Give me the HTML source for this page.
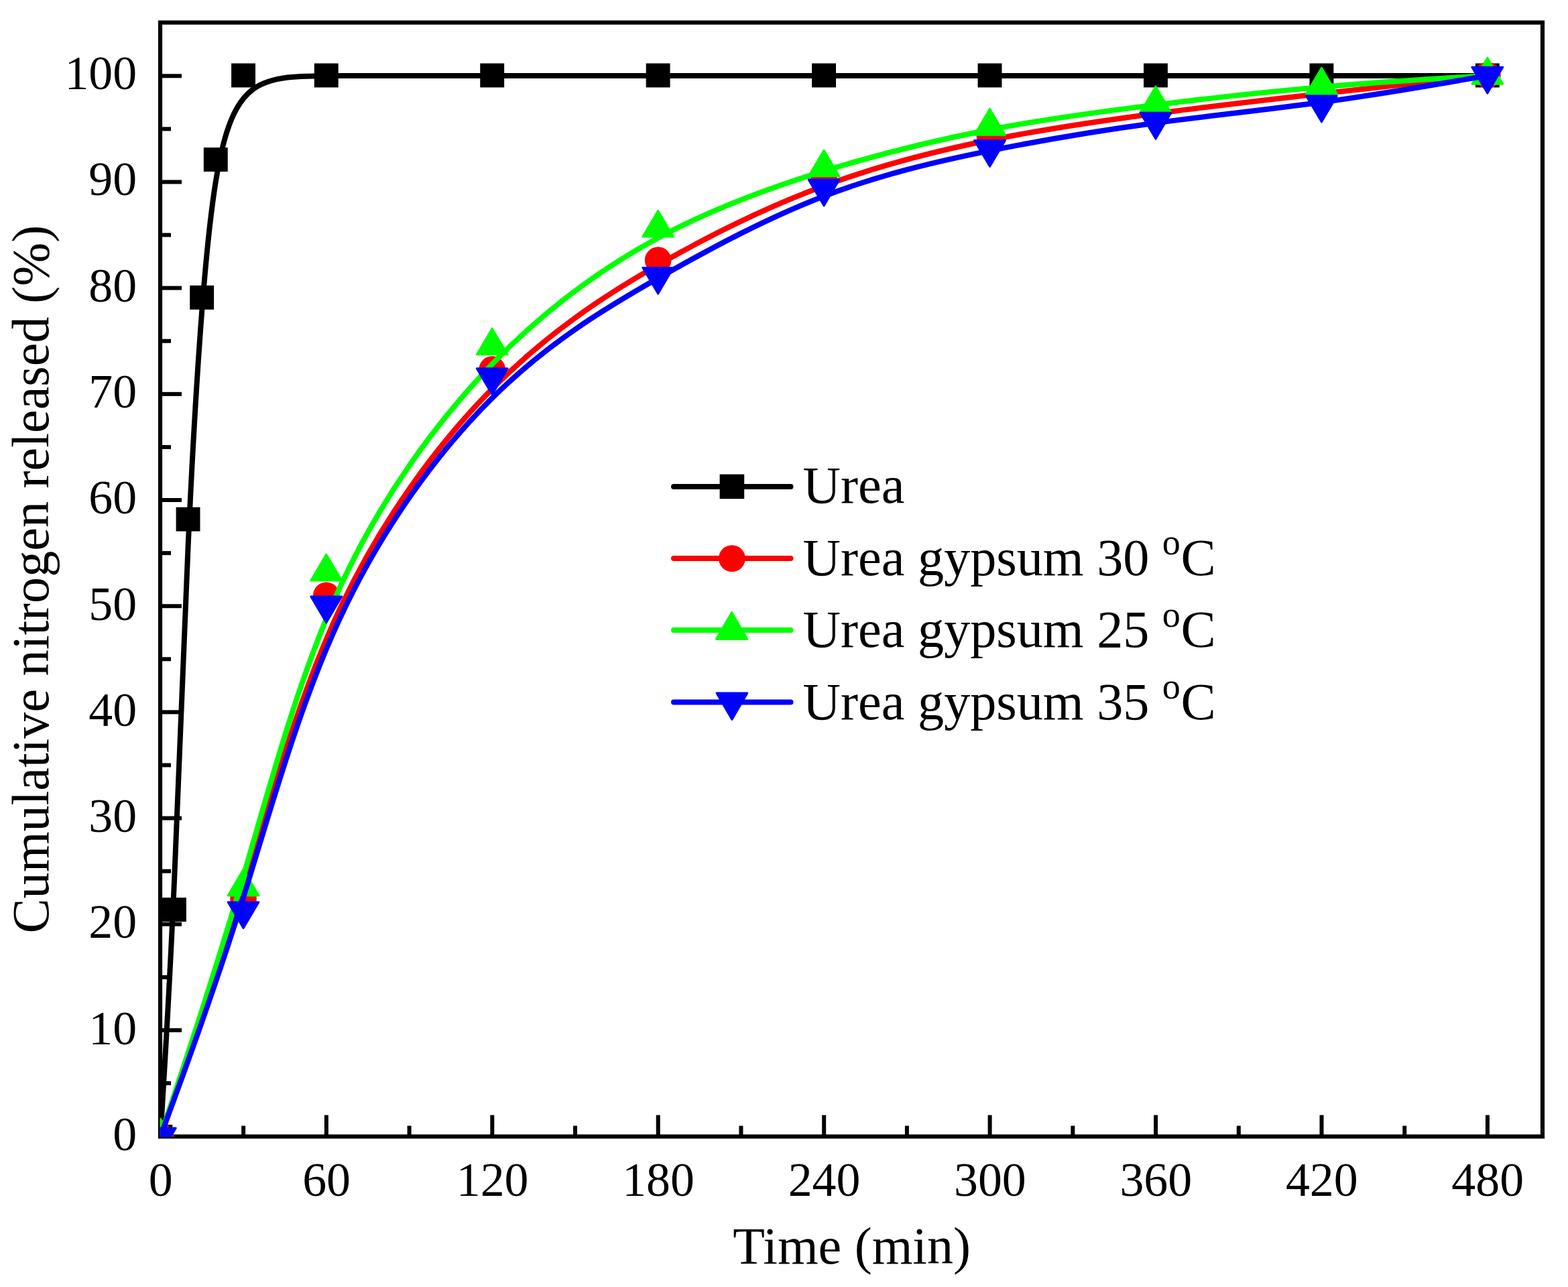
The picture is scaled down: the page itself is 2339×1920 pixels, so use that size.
<!DOCTYPE html>
<html lang="en"><head><meta charset="utf-8"><title>Cumulative nitrogen released</title>
<style>html,body{margin:0;padding:0;background:#fff}body{width:2339px;height:1920px;overflow:hidden}svg{display:block}text{font-family:"Liberation Serif","Times New Roman",serif;fill:#000}</style>
</head><body>
<svg width="2339" height="1920" viewBox="0 0 2339 1920">
<rect width="2339" height="1920" fill="#fff"/>
<defs><clipPath id="plot"><rect x="238.6" y="33.6" width="2062.4" height="1662.3000000000002"/></clipPath></defs>
<rect x="239.0" y="33.6" width="2062.0" height="1661.9" fill="none" stroke="#000" stroke-width="6.2"/>
<g stroke="#000" stroke-width="6" fill="none">
<line x1="239.0" y1="1616.01" x2="255.0" y2="1616.01"/>
<line x1="239.0" y1="1536.92" x2="271.0" y2="1536.92"/>
<line x1="239.0" y1="1457.83" x2="255.0" y2="1457.83"/>
<line x1="239.0" y1="1378.74" x2="271.0" y2="1378.74"/>
<line x1="239.0" y1="1299.65" x2="255.0" y2="1299.65"/>
<line x1="239.0" y1="1220.56" x2="271.0" y2="1220.56"/>
<line x1="239.0" y1="1141.47" x2="255.0" y2="1141.47"/>
<line x1="239.0" y1="1062.38" x2="271.0" y2="1062.38"/>
<line x1="239.0" y1="983.29" x2="255.0" y2="983.29"/>
<line x1="239.0" y1="904.20" x2="271.0" y2="904.20"/>
<line x1="239.0" y1="825.11" x2="255.0" y2="825.11"/>
<line x1="239.0" y1="746.02" x2="271.0" y2="746.02"/>
<line x1="239.0" y1="666.93" x2="255.0" y2="666.93"/>
<line x1="239.0" y1="587.84" x2="271.0" y2="587.84"/>
<line x1="239.0" y1="508.75" x2="255.0" y2="508.75"/>
<line x1="239.0" y1="429.66" x2="271.0" y2="429.66"/>
<line x1="239.0" y1="350.57" x2="255.0" y2="350.57"/>
<line x1="239.0" y1="271.48" x2="271.0" y2="271.48"/>
<line x1="239.0" y1="192.39" x2="255.0" y2="192.39"/>
<line x1="239.0" y1="113.30" x2="271.0" y2="113.30"/>
<line x1="363.12" y1="1695.5" x2="363.12" y2="1679.5"/>
<line x1="486.84" y1="1695.5" x2="486.84" y2="1663.5"/>
<line x1="610.56" y1="1695.5" x2="610.56" y2="1679.5"/>
<line x1="734.28" y1="1695.5" x2="734.28" y2="1663.5"/>
<line x1="858.00" y1="1695.5" x2="858.00" y2="1679.5"/>
<line x1="981.72" y1="1695.5" x2="981.72" y2="1663.5"/>
<line x1="1105.44" y1="1695.5" x2="1105.44" y2="1679.5"/>
<line x1="1229.16" y1="1695.5" x2="1229.16" y2="1663.5"/>
<line x1="1352.88" y1="1695.5" x2="1352.88" y2="1679.5"/>
<line x1="1476.60" y1="1695.5" x2="1476.60" y2="1663.5"/>
<line x1="1600.32" y1="1695.5" x2="1600.32" y2="1679.5"/>
<line x1="1724.04" y1="1695.5" x2="1724.04" y2="1663.5"/>
<line x1="1847.76" y1="1695.5" x2="1847.76" y2="1679.5"/>
<line x1="1971.48" y1="1695.5" x2="1971.48" y2="1663.5"/>
<line x1="2095.20" y1="1695.5" x2="2095.20" y2="1679.5"/>
<line x1="2218.92" y1="1695.5" x2="2218.92" y2="1663.5"/>
</g>
<g font-size="71.8">
<text transform="translate(204.1,1716) scale(1.0,1)" text-anchor="end">0</text>
<text transform="translate(204.1,1558) scale(1.0,1)" text-anchor="end">10</text>
<text transform="translate(204.1,1399) scale(1.0,1)" text-anchor="end">20</text>
<text transform="translate(204.1,1241) scale(1.0,1)" text-anchor="end">30</text>
<text transform="translate(204.1,1083) scale(1.0,1)" text-anchor="end">40</text>
<text transform="translate(204.1,925) scale(1.0,1)" text-anchor="end">50</text>
<text transform="translate(204.1,766) scale(1.0,1)" text-anchor="end">60</text>
<text transform="translate(204.1,608) scale(1.0,1)" text-anchor="end">70</text>
<text transform="translate(204.1,450) scale(1.0,1)" text-anchor="end">80</text>
<text transform="translate(204.1,291) scale(1.0,1)" text-anchor="end">90</text>
<text transform="translate(204.1,133) scale(1.0,1)" text-anchor="end">100</text>
<text transform="translate(239.7,1784) scale(1.0,1)" text-anchor="middle">0</text>
<text transform="translate(487.1,1784) scale(1.0,1)" text-anchor="middle">60</text>
<text transform="translate(734.6,1784) scale(1.0,1)" text-anchor="middle">120</text>
<text transform="translate(982.0,1784) scale(1.0,1)" text-anchor="middle">180</text>
<text transform="translate(1229.5,1784) scale(1.0,1)" text-anchor="middle">240</text>
<text transform="translate(1476.9,1784) scale(1.0,1)" text-anchor="middle">300</text>
<text transform="translate(1724.3,1784) scale(1.0,1)" text-anchor="middle">360</text>
<text transform="translate(1971.8,1784) scale(1.0,1)" text-anchor="middle">420</text>
<text transform="translate(2219.2,1784) scale(1.0,1)" text-anchor="middle">480</text>
</g>
<text x="1270.7" y="1885" font-size="78" text-anchor="middle">Time (min)</text>
<text transform="translate(71.8,864.2) rotate(-90) scale(1.002,1)" font-size="78" text-anchor="middle">Cumulative nitrogen released (%)</text>
<g clip-path="url(#plot)">
<path d="M239.30,1695.50 C239.30,1695.50 239.30,1695.50 242.74,1639.05 C246.17,1582.60 253.05,1469.69 259.92,1316.16 C266.79,1162.64 273.67,968.48 280.54,816.28 C287.41,664.07 294.29,553.80 301.16,464.38 C308.03,374.95 314.91,306.36 325.22,251.27 C335.53,196.18 349.27,154.58 376.77,133.78 C404.26,112.98 445.50,112.98 507.36,112.98 C569.22,112.98 651.70,112.98 734.18,112.98 C816.66,112.98 899.14,112.98 981.62,112.98 C1064.10,112.98 1146.58,112.98 1229.06,112.98 C1311.54,112.98 1394.02,112.98 1476.50,112.98 C1558.98,112.98 1641.46,112.98 1723.94,112.98 C1806.42,112.98 1888.90,112.98 1971.38,112.98 C2053.86,112.98 2136.34,112.98 2177.58,112.98 C2218.82,112.98 2218.82,112.98 2218.82,112.98" fill="none" stroke="#000" stroke-width="8" stroke-linejoin="round"/>
<g fill="#000">
<rect x="221.35" y="1677.85" width="35.9" height="35.9"/>
<rect x="241.97" y="1339.14" width="35.9" height="35.9"/>
<rect x="262.59" y="756.68" width="35.9" height="35.9"/>
<rect x="283.21" y="425.89" width="35.9" height="35.9"/>
<rect x="303.83" y="220.13" width="35.9" height="35.9"/>
<rect x="345.07" y="94.53" width="35.9" height="35.9"/>
<rect x="468.79" y="94.53" width="35.9" height="35.9"/>
<rect x="716.23" y="94.53" width="35.9" height="35.9"/>
<rect x="963.67" y="94.53" width="35.9" height="35.9"/>
<rect x="1211.11" y="94.53" width="35.9" height="35.9"/>
<rect x="1458.55" y="94.53" width="35.9" height="35.9"/>
<rect x="1705.99" y="94.53" width="35.9" height="35.9"/>
<rect x="1953.43" y="94.53" width="35.9" height="35.9"/>
<rect x="2200.87" y="94.53" width="35.9" height="35.9"/>
</g>
<path d="M239.30,1695.50 C239.30,1695.50 239.30,1695.50 259.92,1636.41 C280.54,1577.32 321.78,1459.14 363.02,1324.61 C404.26,1190.07 445.50,1039.18 507.36,907.55 C569.22,775.92 651.70,663.54 734.18,580.18 C816.66,496.82 899.14,442.48 981.62,395.26 C1064.10,348.04 1146.58,307.95 1229.06,277.35 C1311.54,246.75 1394.02,225.64 1476.50,209.02 C1558.98,192.40 1641.46,180.27 1723.94,169.45 C1806.42,158.64 1888.90,149.14 1971.38,139.82 C2053.86,130.49 2136.34,121.34 2177.58,116.76 C2218.82,112.18 2218.82,112.18 2218.82,112.18" fill="none" stroke="#f00" stroke-width="8" stroke-linejoin="round"/>
<g fill="#f00">
<circle cx="239.30" cy="1695.50" r="19.8"/>
<circle cx="363.02" cy="1340.96" r="19.8"/>
<circle cx="486.74" cy="888.29" r="19.8"/>
<circle cx="734.18" cy="551.16" r="19.8"/>
<circle cx="981.62" cy="388.14" r="19.8"/>
<circle cx="1229.06" cy="267.85" r="19.8"/>
<circle cx="1476.50" cy="204.54" r="19.8"/>
<circle cx="1723.94" cy="168.13" r="19.8"/>
<circle cx="1971.38" cy="139.65" r="19.8"/>
<circle cx="2218.82" cy="112.18" r="19.8"/>
</g>
<path d="M239.30,1695.50 C239.30,1695.50 239.30,1695.50 259.92,1633.51 C280.54,1571.52 321.78,1447.53 363.02,1307.20 C404.26,1166.86 445.50,1010.16 507.36,875.63 C569.22,741.09 651.70,628.72 734.18,543.25 C816.66,457.78 899.14,399.22 981.62,354.90 C1064.10,310.58 1146.58,280.51 1229.06,255.19 C1311.54,229.86 1394.02,209.29 1476.50,193.46 C1558.98,177.63 1641.46,166.55 1723.94,156.40 C1806.42,146.24 1888.90,137.01 1971.38,129.88 C2053.86,122.76 2136.34,117.75 2177.58,115.24 C2218.82,112.74 2218.82,112.74 2218.82,112.74" fill="none" stroke="#0f0" stroke-width="8" stroke-linejoin="round"/>
<g fill="#0f0">
<polygon points="239.30,1669.03 262.30,1708.03 216.30,1708.03" stroke="#0f0" stroke-width="2.8" stroke-linejoin="round"/>
<polygon points="363.02,1297.08 386.02,1336.08 340.02,1336.08" stroke="#0f0" stroke-width="2.8" stroke-linejoin="round"/>
<polygon points="486.74,827.00 509.74,866.00 463.74,866.00" stroke="#0f0" stroke-width="2.8" stroke-linejoin="round"/>
<polygon points="734.18,489.88 757.18,528.88 711.18,528.88" stroke="#0f0" stroke-width="2.8" stroke-linejoin="round"/>
<polygon points="981.62,314.19 1004.62,353.19 958.62,353.19" stroke="#0f0" stroke-width="2.8" stroke-linejoin="round"/>
<polygon points="1229.06,223.97 1252.06,262.97 1206.06,262.97" stroke="#0f0" stroke-width="2.8" stroke-linejoin="round"/>
<polygon points="1476.50,162.24 1499.50,201.24 1453.50,201.24" stroke="#0f0" stroke-width="2.8" stroke-linejoin="round"/>
<polygon points="1723.94,129.01 1746.94,168.01 1700.94,168.01" stroke="#0f0" stroke-width="2.8" stroke-linejoin="round"/>
<polygon points="1971.38,101.31 1994.38,140.31 1948.38,140.31" stroke="#0f0" stroke-width="2.8" stroke-linejoin="round"/>
<polygon points="2218.82,86.27 2241.82,125.27 2195.82,125.27" stroke="#0f0" stroke-width="2.8" stroke-linejoin="round"/>
</g>
<path d="M239.30,1695.50 C239.30,1695.50 239.30,1695.50 259.92,1639.31 C280.54,1583.12 321.78,1470.75 363.02,1338.59 C404.26,1206.43 445.50,1054.48 507.36,921.79 C569.22,789.11 651.70,675.67 734.18,593.90 C816.66,512.12 899.14,462.00 981.62,415.05 C1064.10,368.09 1146.58,324.30 1229.06,292.65 C1311.54,260.99 1394.02,241.47 1476.50,224.85 C1558.98,208.23 1641.46,194.51 1723.94,183.43 C1806.42,172.36 1888.90,163.91 1971.38,152.57 C2053.86,141.23 2136.34,126.98 2177.58,119.86 C2218.82,112.74 2218.82,112.74 2218.82,112.74" fill="none" stroke="#00f" stroke-width="8" stroke-linejoin="round"/>
<g fill="#00f">
<polygon points="239.30,1721.97 262.30,1682.97 216.30,1682.97" stroke="#00f" stroke-width="2.8" stroke-linejoin="round"/>
<polygon points="363.02,1384.84 386.02,1345.84 340.02,1345.84" stroke="#00f" stroke-width="2.8" stroke-linejoin="round"/>
<polygon points="486.74,929.00 509.74,890.00 463.74,890.00" stroke="#00f" stroke-width="2.8" stroke-linejoin="round"/>
<polygon points="734.18,588.71 757.18,549.71 711.18,549.71" stroke="#00f" stroke-width="2.8" stroke-linejoin="round"/>
<polygon points="981.62,438.35 1004.62,399.35 958.62,399.35" stroke="#00f" stroke-width="2.8" stroke-linejoin="round"/>
<polygon points="1229.06,306.98 1252.06,267.98 1206.06,267.98" stroke="#00f" stroke-width="2.8" stroke-linejoin="round"/>
<polygon points="1476.50,248.42 1499.50,209.42 1453.50,209.42" stroke="#00f" stroke-width="2.8" stroke-linejoin="round"/>
<polygon points="1723.94,207.26 1746.94,168.26 1700.94,168.26" stroke="#00f" stroke-width="2.8" stroke-linejoin="round"/>
<polygon points="1971.38,181.94 1994.38,142.94 1948.38,142.94" stroke="#00f" stroke-width="2.8" stroke-linejoin="round"/>
<polygon points="2218.82,139.20 2241.82,100.20 2195.82,100.20" stroke="#00f" stroke-width="2.8" stroke-linejoin="round"/>
</g>
</g>
<line x1="1005" y1="725.9" x2="1179.5" y2="725.9" stroke="#000" stroke-width="8" stroke-linecap="round"/>
<g fill="#000"><rect x="1073.60" y="707.60" width="36.6" height="36.6"/></g>
<text x="1197.6" y="750.0" font-size="78.2">Urea</text>
<line x1="1005" y1="833.1" x2="1179.5" y2="833.1" stroke="#f00" stroke-width="8" stroke-linecap="round"/>
<g fill="#f00"><circle cx="1091.90" cy="833.10" r="19.9"/></g>
<text font-size="78.2"><tspan x="1197.6" y="858.0">Urea gypsum 30</tspan><tspan x="1733.8" y="827.0" font-size="54">o</tspan><tspan x="1761.6" y="858.0">C</tspan></text>
<line x1="1005" y1="940.1" x2="1179.5" y2="940.1" stroke="#0f0" stroke-width="8" stroke-linecap="round"/>
<g fill="#0f0"><polygon points="1091.60,913.33 1114.85,953.53 1068.35,953.53" stroke="#0f0" stroke-width="2.8" stroke-linejoin="round"/></g>
<text font-size="78.2"><tspan x="1197.6" y="965.0">Urea gypsum 25</tspan><tspan x="1733.8" y="935.0" font-size="54">o</tspan><tspan x="1761.6" y="965.0">C</tspan></text>
<line x1="1005" y1="1047.5" x2="1179.5" y2="1047.5" stroke="#00f" stroke-width="8" stroke-linecap="round"/>
<g fill="#00f"><polygon points="1091.90,1073.50 1114.90,1034.00 1068.90,1034.00" stroke="#00f" stroke-width="2.8" stroke-linejoin="round"/></g>
<text font-size="78.2"><tspan x="1197.6" y="1073.0">Urea gypsum 35</tspan><tspan x="1733.8" y="1042.0" font-size="54">o</tspan><tspan x="1761.6" y="1073.0">C</tspan></text>
</svg>
</body></html>
